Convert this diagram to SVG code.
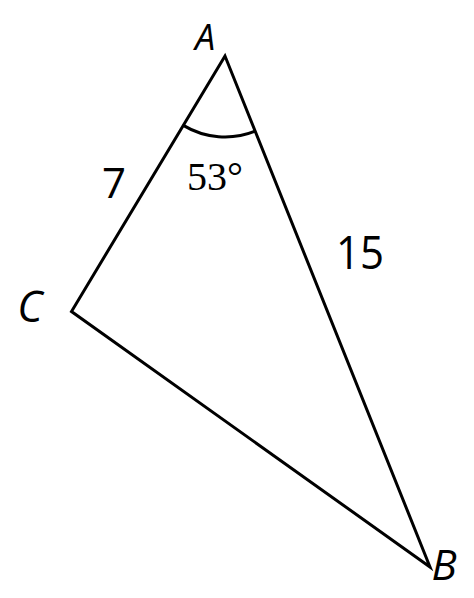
<svg xmlns="http://www.w3.org/2000/svg" width="474" height="598" viewBox="0 0 474 598">
<style>
.e{stroke:#000;stroke-width:3;fill:none;stroke-linejoin:miter}
.v{font-family:"Open Sans","Liberation Sans",sans-serif;font-style:italic;fill:#000}
.s{font-family:"Open Sans","Liberation Sans",sans-serif;fill:#000}
.g{font-family:"Liberation Serif","Times New Roman",serif;font-size:40px;fill:#000}
</style>
<rect width="474" height="598" fill="#fff"/>
<g id="connectors">
<path class="e" d="M225 56 L71.5 311.5 L430 567 Z"/>
<path class="e" d="M183.3 125.4 A81 81 0 0 0 255.2 131.2"/>
</g>
<g id="A"><text class="v" x="205" y="50" font-size="36" text-anchor="middle">A</text></g>
<g id="C"><text class="v" x="30" y="322" font-size="43" text-anchor="middle">C</text></g>
<g id="B"><text class="v" x="444" y="580" font-size="42" text-anchor="middle">B</text></g>
<g id="angle"><text class="g" x="215" y="190" text-anchor="middle" font-family="Liberation Serif, serif">53°</text></g>
<g id="side7"><text class="s" x="114" y="198" font-size="42" text-anchor="middle">7</text></g>
<g id="side15"><text class="s" x="360" y="269" font-size="46" text-anchor="middle" textLength="48" lengthAdjust="spacingAndGlyphs">15</text></g>
</svg>
